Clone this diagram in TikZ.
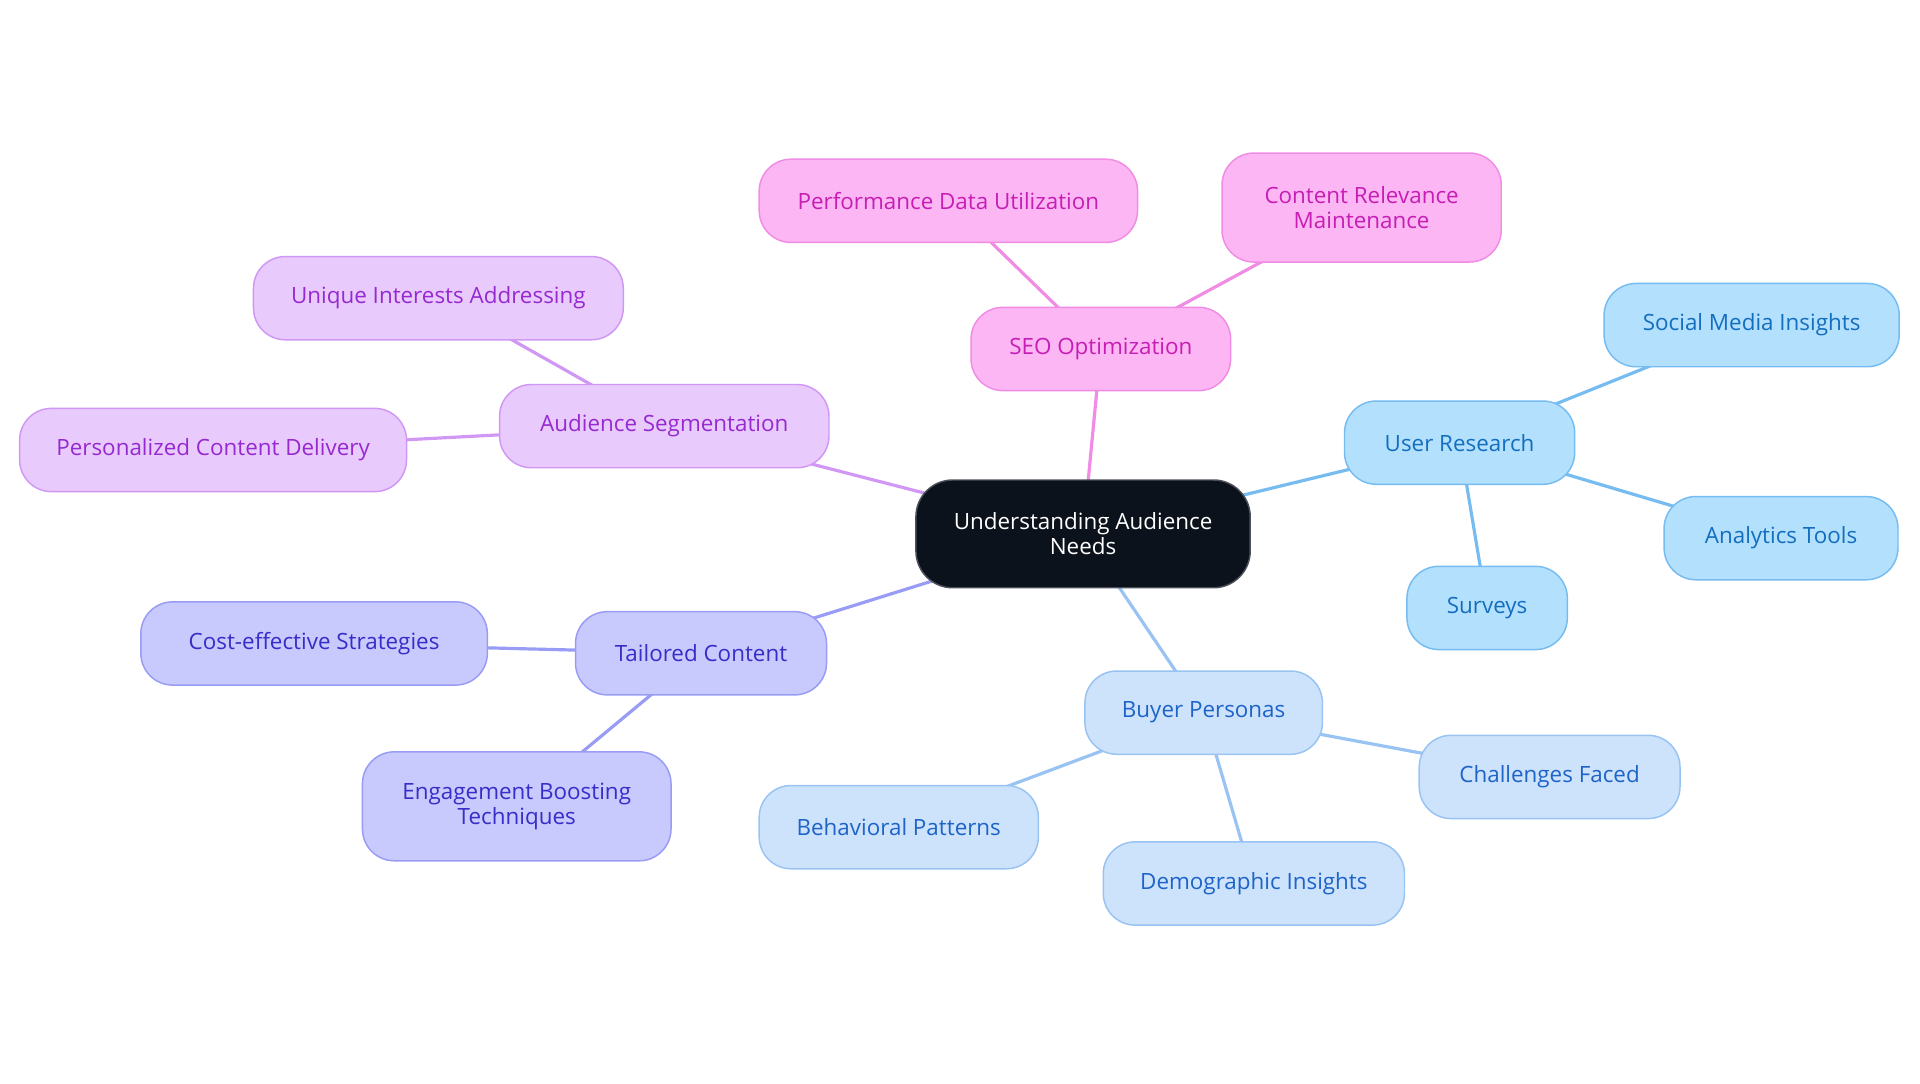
\documentclass[tikz,border=0pt]{standalone}
\usepackage{fontspec}
\setmainfont{Open Sans}
\usetikzlibrary{backgrounds}

\begin{document}
\begin{tikzpicture}[x=1pt, y=-1pt,
	topic/.style={rounded corners=26pt, line width=1.2pt, minimum height=68pt, inner sep=0pt, align=center, font=\fontsize{18.3}{20.5}\selectfont},
	link/.style={line width=2.6pt},
	]
	\definecolor{coreback}{RGB}{11, 18, 28}
	\definecolor{coreline}{RGB}{75, 80, 90}
	\definecolor{pinkback}{RGB}{253, 182, 244}
	\definecolor{pinkline}{RGB}{240, 140, 228}
	\definecolor{pinktext}{RGB}{198, 30, 180}
	\definecolor{purpleback}{RGB}{232, 202, 252}
	\definecolor{purpleline}{RGB}{208, 152, 244}
	\definecolor{purpletext}{RGB}{150, 42, 208}
	\definecolor{indigoback}{RGB}{200, 201, 252}
	\definecolor{indigoline}{RGB}{152, 156, 244}
	\definecolor{indigotext}{RGB}{55, 45, 200}
	\definecolor{skyback}{RGB}{179, 224, 253}
	\definecolor{skyline}{RGB}{118, 188, 240}
	\definecolor{skytext}{RGB}{20, 110, 190}
	\definecolor{paleback}{RGB}{205, 226, 251}
	\definecolor{paleline}{RGB}{152, 195, 242}
	\definecolor{paletext}{RGB}{30, 100, 200}
	\tikzset{
		core/.style={topic, fill=coreback, draw=coreline, text=white, rounded corners=30pt},
		pink/.style={topic, fill=pinkback, draw=pinkline, text=pinktext},
		purple/.style={topic, fill=purpleback, draw=purpleline, text=purpletext},
		indigo/.style={topic, fill=indigoback, draw=indigoline, text=indigotext},
		sky/.style={topic, fill=skyback, draw=skyline, text=skytext},
		pale/.style={topic, fill=paleback, draw=paleline, text=paletext},
	}

	\useasboundingbox (0, 0) rectangle (1568, 885);

	% centre
	\node[core, minimum width=273pt, minimum height=88pt] (needs) at (884.5, 436) {Understanding Audience\\Needs};

	% seo branch
	\node[pink, minimum width=212pt] (seo) at (899, 285) {SEO Optimization};
	\node[pink, minimum width=309pt] (perf) at (774.5, 164) {Performance Data Utilization};
	\node[pink, minimum width=228pt, minimum height=89pt] (relev) at (1112, 169.5) {Content Relevance\\Maintenance};

	% segmentation branch
	\node[purple, minimum width=269pt] (segment) at (542.5, 348) {Audience Segmentation};
	\node[purple, minimum width=302pt] (unique) at (358, 243.5) {Unique Interests Addressing};
	\node[purple, minimum width=316pt] (personal) at (174, 367.5) {Personalized Content Delivery};

	% tailored branch
	\node[indigo, minimum width=205pt] (tailored) at (572.5, 533.5) {Tailored Content};
	\node[indigo, minimum width=283pt] (costeff) at (256.5, 525.5) {Cost-effective Strategies};
	\node[indigo, minimum width=252pt, minimum height=89pt] (engage) at (422, 658.5) {Engagement Boosting\\Techniques};

	% research branch
	\node[sky, minimum width=188pt] (research) at (1192, 361.5) {User Research};
	\node[sky, minimum width=241pt] (social) at (1430.5, 265.5) {Social Media Insights};
	\node[sky, minimum width=191pt] (analytics) at (1454.5, 439.5) {Analytics Tools};
	\node[sky, minimum width=131pt] (surveys) at (1214.5, 496.5) {Surveys};

	% personas branch
	\node[pale, minimum width=194pt] (personas) at (983, 582) {Buyer Personas};
	\node[pale, minimum width=213pt] (challenge) at (1265.5, 634.5) {Challenges Faced};
	\node[pale, minimum width=228pt] (behave) at (734, 675.5) {Behavioral Patterns};
	\node[pale, minimum width=246pt] (demo) at (1024, 721.5) {Demographic Insights};

	% links
	\begin{scope}[on background layer]
		\draw[link, pinkline] (needs.center) -- (seo.center);
		\draw[link, pinkline] (seo.center) -- (perf.center);
		\draw[link, pinkline] (seo.center) -- (relev.center);
		\draw[link, purpleline] (needs.center) -- (segment.center);
		\draw[link, purpleline] (segment.center) -- (unique.center);
		\draw[link, purpleline] (segment.center) -- (personal.center);
		\draw[link, indigoline] (needs.center) -- (tailored.center);
		\draw[link, indigoline] (tailored.center) -- (costeff.center);
		\draw[link, indigoline] (tailored.center) -- (engage.center);
		\draw[link, skyline] (needs.center) -- (research.center);
		\draw[link, skyline] (research.center) -- (social.center);
		\draw[link, skyline] (research.center) -- (analytics.center);
		\draw[link, skyline] (research.center) -- (surveys.center);
		\draw[link, paleline] (needs.center) -- (personas.center);
		\draw[link, paleline] (personas.center) -- (challenge.center);
		\draw[link, paleline] (personas.center) -- (behave.center);
		\draw[link, paleline] (personas.center) -- (demo.center);
	\end{scope}
\end{tikzpicture}
\end{document}
